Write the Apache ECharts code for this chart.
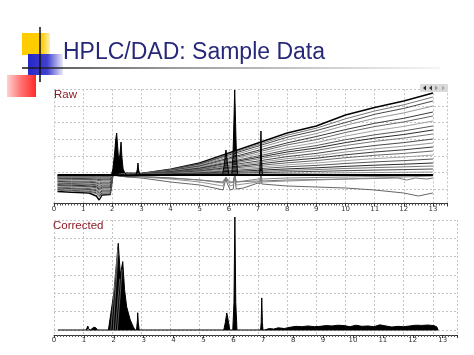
<!DOCTYPE html>
<html><head><meta charset="utf-8">
<script src="https://cdn.jsdelivr.net/npm/echarts@6/dist/echarts.min.js"></script>
<style>html,body{margin:0;padding:0;background:#fff}#c{width:474px;height:355px}</style>
</head><body><div id="c"></div>
<script>
// ---------- Raw panel data (retention time in min, signal in mAU, baseline = 0) ----------
const rawX = [0.12, 0.6, 1.2, 1.45, 1.55, 1.65, 1.93, 2.02, 2.5, 3, 4, 5, 6, 7, 8, 9, 10, 11, 12, 13];
const raw01 = [-16.5, -17.3, -18, -21, -25, -20, -19.5, 0, 1.7, 1.6, 5.7, 12, 22, 32, 42, 49, 60, 67.5, 74, 82];
const raw02 = [-15.2, -16.2, -17.1, -18.5, -21.9, -19, -19, 0, 1.6, 1.6, 5.5, 11.3, 21, 30.4, 39.8, 46.8, 56.2, 64, 70.2, 78];
const raw03 = [-14.4, -15.3, -16.2, -17.6, -20.7, -18, -18, 0, 1.5, 1.5, 5.2, 10.7, 20, 28.9, 37.7, 44.4, 52.5, 60.7, 66.6, 74];
const raw04 = [-13.6, -14.5, -15.3, -16.6, -19.6, -17, -17, 0, 1.3, 1.4, 4.8, 10, 18.6, 26.9, 35.2, 41.4, 49.7, 56.6, 62.1, 69];
const raw05 = [-12.8, -13.6, -14.4, -15.6, -18.4, -16, -16, 0, 1.1, 1.3, 4.4, 9.1, 17, 24.6, 32.1, 38.5, 45.4, 51.7, 56.7, 63];
const raw06 = [-12, -12.8, -13.5, -14.6, -17.3, -15, -15, 0, 1, 1.2, 4.1, 8.6, 15.9, 23, 30.1, 35.4, 42.5, 48.4, 53.1, 59];
const raw07 = [-11.2, -11.9, -12.6, -13.7, -16.1, -14, -14, 0, 0.8, 1.1, 3.8, 7.8, 14.6, 21.1, 27.5, 32.4, 38.9, 44.3, 48.6, 54];
const raw08 = [-10.4, -11.1, -11.7, -12.7, -15, -13, -13, 0, 0.6, 1, 3.4, 7.1, 13.2, 19.1, 25, 29.4, 35.3, 40.2, 44.1, 49];
const raw09 = [-9.6, -10.2, -10.8, -11.7, -13.8, -12, -12, 0, 0.5, 0.9, 3.2, 6.5, 12.2, 17.6, 23, 27, 32.4, 36.9, 40.5, 45];
const raw10 = [-8.8, -9.4, -9.9, -10.7, -12.7, -11, -11, 0, 0.4, 0.8, 2.9, 5.9, 11.1, 16, 20.9, 24.6, 29.5, 33.6, 36.9, 41];
const raw11 = [-8, -8.5, -9, -9.8, -11.5, -10, -10, 0, 0.2, 0.7, 2.5, 5.2, 9.7, 14, 18.4, 21.6, 25.9, 29.5, 32.4, 36];
const raw12 = [-7.2, -7.7, -8.1, -8.8, -10.4, -9, -9, 0, 0, 0.6, 2.2, 4.6, 8.6, 12.5, 16.3, 19.2, 23, 26.2, 28.8, 32];
const raw13 = [-6.4, -6.8, -7.2, -7.8, -9.2, -8, -8, 0, -0.2, 0.5, 2, 4.1, 7.6, 10.9, 14.3, 16.8, 20.2, 23, 25.2, 28];
const raw14 = [-5.6, -6, -6.3, -6.8, -8.1, -7, -7, 0, -0.3, 0.4, 1.7, 3.5, 6.5, 9.4, 12.2, 14.4, 17.3, 19.7, 21.6, 24];
const raw15 = [-4.8, -5.1, -5.4, -5.9, -6.9, -6, -6, 0, -0.5, 0.3, 1.4, 2.9, 5.4, 7.8, 10.2, 12, 14.4, 16.4, 18, 20];
const raw16 = [-4, -4.3, -4.5, -4.9, -5.8, -5, -5, 0, -0.6, 0.2, 1.1, 2.3, 4.3, 6.2, 8.2, 9.6, 11.5, 13.1, 14.4, 16];
const raw17 = [-3.2, -3.4, -3.6, -3.9, -4.6, -4, -4, 0, -0.8, 0.1, 0.8, 1.7, 3.2, 4.7, 6.1, 7.2, 8.6, 9.8, 10.8, 12];
const raw18 = [-2.4, -2.6, -2.7, -2.9, -3.5, -3, -3, 0, -0.9, 0, 0.6, 1.3, 2.4, 3.5, 4.6, 5.4, 6.5, 7.4, 8.1, 9];
const raw19 = [-1.6, -1.7, -1.8, -2, -2.3, -2, -2, 0, -1, -0.1, 0.4, 0.9, 1.6, 2.3, 3.1, 3.6, 4.3, 4.9, 5.4, 6];
const raw20 = [-0.8, -0.9, -0.9, -1, -1.2, -1, -1, 0, -1.2, -0.3, 0.2, 0.4, 0.8, 1.2, 1.5, 1.8, 2.2, 2.5, 2.7, 3];
const raw21 = [0, 0, 0, 0, 0, 0, 0, 0, -0.5, 0, 0, 0, 0, 0, 0, 0, 0, 0, 0, 0];
// traces that drift below the baseline (time, mAU) with their peak bumps
const raw22 = [[0.12,-0.5],[0.6,-0.5],[1.2,-0.5],[1.45,-0.6],[1.55,-0.7],[1.65,-0.6],[1.93,-0.6],[2.02,0],[2.5,-1.5],[3,-1.5],[4,-3],[5,-5],[5.8,-7],[5.85,-4],[5.9,-2],[5.95,-4],[6.05,-7],[6.15,-7],[6.2,0],[6.25,-7],[6.5,-6.5],[7,-6],[7.07,-6],[7.1,1],[7.13,-6],[8,-5],[9,-4.5],[10,-4],[11,-3.5],[11.8,-3],[12.1,-5],[12.4,-3],[12.8,-4],[13,-3]];
const raw23 = [[0.12,-1.3],[0.6,-1.4],[1.2,-1.4],[1.45,-1.6],[1.55,-1.8],[1.65,-1.6],[1.93,-1.6],[2.02,0],[2.5,-2],[3,-3],[3.5,-5],[4,-7],[5,-10],[5.5,-13],[5.8,-15],[5.85,-9],[5.9,-4],[5.95,-9],[6.05,-15],[6.15,-14],[6.2,0],[6.25,-14],[6.5,-13],[7,-8],[7.07,-9],[7.1,3],[7.13,-9],[8,-11],[9,-12],[10,-13],[11,-15],[12,-18],[12.5,-21],[13,-18]];
const raw24 = [[0.12,-1.9],[0.6,-2],[1.2,-2.2],[1.45,-2.3],[1.55,-2.8],[1.65,-2.4],[1.93,-2.4],[2.02,0],[2.5,-1.8],[3,-2],[4,-4],[5,-7],[5.8,-11],[5.85,-6],[5.9,-3],[5.95,-6],[6.05,-11],[6.15,-10],[6.2,0],[6.25,-10],[6.5,-9],[7,-7],[7.07,-7],[7.1,2],[7.13,-7],[8,-6],[9,-5],[10,-4],[11,-3],[12,-2],[13,-1]];
const raw25 = [[0.12,-2.6],[0.6,-2.7],[1.2,-2.9],[1.45,-3.1],[1.55,-3.7],[1.65,-3.2],[1.93,-3.2],[2.02,0],[2.5,-1.5],[3,-1.5],[4,-3],[5,-5],[5.8,-8],[5.85,-5],[5.9,-2],[5.95,-5],[6.05,-8],[6.15,-7],[6.2,0],[6.25,-7],[6.5,-6],[7,-4],[7.07,-4],[7.1,2],[7.13,-4],[8,-3],[9,-2.5],[10,-2],[11,-1.5],[12,-1],[13,-0.5]];
// raw peaks (filled)
const rawPeakA = [[1.97,0],[2.02,6],[2.08,22],[2.12,36],[2.15,42],[2.18,30],[2.22,14],[2.26,20],[2.3,33],[2.33,18],[2.37,6],[2.43,2],[2.5,0]];
const rawPeakB = [[2.82,0],[2.86,6],[2.88,12],[2.9,6],[2.94,0]];
const rawPeakC = [[5.78,0],[5.84,10],[5.9,25],[5.95,12],[6.0,0]];
const rawPeakD = [[6.1,0],[6.14,20],[6.16,40],[6.2,85],[6.24,40],[6.26,20],[6.3,0]];
const rawPeakE = [[7.05,0],[7.08,15],[7.1,44],[7.12,15],[7.15,0]];

// ---------- Corrected panel data (time, mAU) ----------
const corBase = [[0.13,0],[12.85,0]];
const corBump1 = [[1.08,0],[1.11,10],[1.13,22],[1.16,8],[1.2,0]];
const corBump2 = [[1.22,0],[1.27,10],[1.33,15],[1.4,12],[1.45,0]];
const corGroup = [[1.82,0],[2.0,200],[2.15,473],[2.22,300],[2.3,373],[2.36,220],[2.43,127],[2.55,55],[2.65,18],[2.71,0]];
const corStreak1 = [[1.9,0],[2.13,440]];
const corStreak2 = [[1.98,0],[2.14,420]];
const corStreak3 = [[2.05,0],[2.2,280]];
const corStreak4 = [[2.12,0],[2.28,330]];
const corPeak28 = [[2.76,0],[2.79,50],[2.8,94],[2.82,40],[2.85,0]];
const corPeak578 = [[5.68,0],[5.73,40],[5.78,93],[5.83,50],[5.88,0]];
const corPeak605 = [[5.98,0],[6.02,150],[6.05,616],[6.08,150],[6.12,0]];
const corPeak695 = [[6.91,0],[6.93,40],[6.95,175],[6.97,40],[6.99,0]];
const corBand = [[7.05,0],[7.2,8],[7.35,5],[7.5,12],[7.7,8],[7.9,15],[8.1,20],[8.3,18],[8.5,22],[8.7,18],[8.9,20],[9.1,24],[9.3,22],[9.5,26],[9.7,24],[9.9,18],[10.1,26],[10.3,20],[10.5,22],[10.7,18],[10.9,28],[11.1,22],[11.3,16],[11.5,20],[11.7,18],[11.9,22],[12.1,26],[12.3,25],[12.5,27],[12.7,24],[12.8,18],[12.85,0]];

// ---------- build ----------
function ln(xi, yi, data, color, width, fill) {
  const s = {type:'line', xAxisIndex:xi, yAxisIndex:yi, data:data, symbol:'none', showSymbol:false,
    clip:false, silent:true, animation:false, lineStyle:{color:color, width:width}};
  if (fill) s.areaStyle = {color:fill, opacity:1};
  return s;
}
const series = [];
const rawList = [raw01,raw02,raw03,raw04,raw05,raw06,raw07,raw08,raw09,raw10,raw11,raw12,raw13,raw14,raw15,raw16,raw17,raw18,raw19,raw20];
const greys = ['#111','#666','#333','#888','#222','#555','#999','#444'];
rawList.forEach((arr,i)=>series.push(ln(0,0, rawX.map((x,j)=>[x,arr[j]]), i===0?'#000':greys[i%8], i===0?1.4:0.9)));
[raw22,raw23,raw24,raw25].forEach((arr,i)=>series.push(ln(0,0,arr, ['#666','#555','#888','#777'][i], 0.9)));
series.push(ln(0,0, rawX.map((x,j)=>[x,raw21[j]]), '#000', 2));
[rawPeakA,rawPeakB,rawPeakC,rawPeakD,rawPeakE].forEach(p=>series.push(ln(0,0,p,'#000',1,'#000')));

series.push(ln(1,2,corBase,'#000',1));
[corBump1,corBump2,corGroup,corPeak28,corPeak578,corPeak605,corPeak695,corBand].forEach(p=>series.push(ln(1,2,p,'#000',1,'#000')));
[corStreak1,corStreak2,corStreak3,corStreak4].forEach(p=>series.push(ln(1,2,p,'#9a9a9a',0.6)));

const gridLine = {show:true, lineStyle:{color:'#c4c4c4', width:1, type:[2,2]}};
function xAx(gi, max, split) {
  return {gridIndex:gi, type:'value', min:0, max:max, interval:1,
    axisLine:{show:true, onZero:false, lineStyle:{color:'#333', width:1}},
    axisTick:{show:true, length:3, lineStyle:{color:'#333'}},
    minorTick:{show:true, splitNumber:10, length:2, lineStyle:{color:'#555'}},
    axisLabel:{fontSize:7, color:'#333', margin:2, fontFamily:'DejaVu Sans',
      formatter:v=>Number.isInteger(v)?String(v):''},
    splitLine: split ? gridLine : {show:false}};
}
const lin = (a,b)=>({type:'linear',x:0,y:0,x2:1,y2:0,colorStops:[{offset:0,color:a[0]},{offset:a[1],color:a[2]},{offset:1,color:b}]});

const option = {
  animation:false,
  grid:[
    {left:54, top:89.3, width:393.5, height:114.2},
    {left:54, top:220, width:403.6, height:115}
  ],
  xAxis:[
    xAx(0, 13.5, true),
    xAx(1, 13.5, false),
    {gridIndex:1, type:'value', min:0, max:13.85, interval:1, position:'top',
     axisLine:{show:false}, axisTick:{show:false}, axisLabel:{show:false}, splitLine:gridLine}
  ],
  yAxis:[
    {gridIndex:0, type:'value', min:-28.5, max:85.7, show:false},
    {gridIndex:0, type:'value', inverse:true, min:0, max:685, interval:100, position:'right',
     axisLine:{show:false}, axisTick:{show:false}, axisLabel:{show:false}, splitLine:gridLine},
    {gridIndex:1, type:'value', min:-27.3, max:600, show:false},
    {gridIndex:1, type:'value', inverse:true, min:0, max:627, interval:100, position:'right',
     axisLine:{show:false}, axisTick:{show:false}, axisLabel:{show:false}, splitLine:gridLine}
  ],
  series: series,
  graphic:[
    {type:'rect', shape:{x:22,y:33,width:28,height:22}, style:{fill:lin(['#ffcc00',0.7,'#ffcc00'],'#fff0b0')}, z:1},
    {type:'rect', shape:{x:28,y:54,width:35,height:21}, style:{fill:lin(['#2626c8',0.55,'#4040d0'],'#eaeaf8')}, z:2},
    {type:'rect', shape:{x:7,y:75,width:29,height:22}, style:{fill:lin(['#ffd0d0',0.5,'#ff7070'],'#ff2a2a')}, z:2},
    {type:'line', shape:{x1:22,y1:68,x2:440,y2:68}, style:{stroke:lin(['#111',0.35,'#777'],'#f4f4f4'), lineWidth:1.5}, z:3},
    {type:'line', shape:{x1:40,y1:27,x2:40,y2:82}, style:{stroke:'#111', lineWidth:1.5}, z:3},
    {type:'text', x:63, y:52.5, style:{text:'HPLC/DAD: Sample Data', font:'23px "Liberation Sans"', fill:'#28287a', verticalAlign:'middle'}, z:3},
    {type:'text', x:54, y:95, style:{text:'Raw', font:'11.5px "Liberation Sans"', fill:'#8c1c24', verticalAlign:'middle'}, z:3},
    {type:'text', x:53, y:225.5, style:{text:'Corrected', font:'11.5px "Liberation Sans"', fill:'#8c1c24', verticalAlign:'middle'}, z:3},
    {type:'rect', shape:{x:420,y:84,width:28,height:8, r:1}, style:{fill:'#dadada'}, z:5},
    {type:'polygon', shape:{points:[[423,88],[426,85.5],[426,90.5]]}, style:{fill:'#222'}, z:6},
    {type:'polygon', shape:{points:[[429,88],[432,85.5],[432,90.5]]}, style:{fill:'#333'}, z:6},
    {type:'polygon', shape:{points:[[438,88],[435,85.5],[435,90.5]]}, style:{fill:'#999'}, z:6},
    {type:'polygon', shape:{points:[[445,88],[442,85.5],[442,90.5]]}, style:{fill:'#aaa'}, z:6}
  ]
};
const chart = echarts.init(document.getElementById('c'), null, {renderer:'canvas'});
chart.setOption(option);
</script>
</body></html>
